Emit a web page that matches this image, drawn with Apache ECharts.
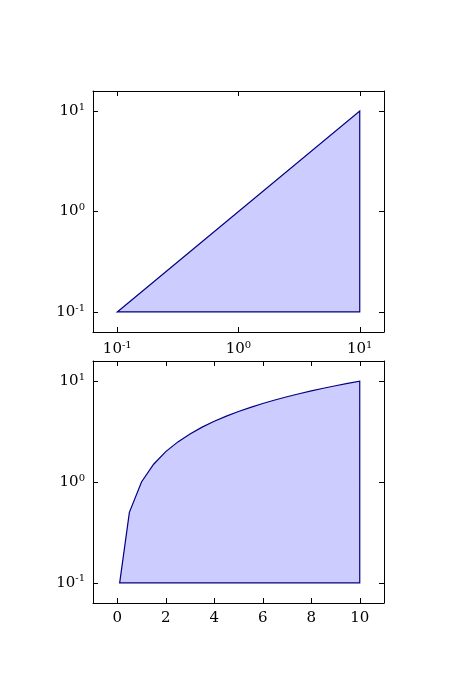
<!DOCTYPE html>
<html><head><meta charset="utf-8">
<script src="https://cdn.jsdelivr.net/npm/echarts@6/dist/echarts.min.js"></script>
<style>html,body{margin:0;padding:0;background:#fff}#c{width:474px;height:697px}</style>
</head><body><div id="c"></div>
<script>
const topPolygon = [[0.1,0.1],[10,10],[10,0.1]];
const bottomX = [0.1,0.5,1,1.5,2,2.5,3,3.5,4,4.5,5,5.5,6,6.5,7,7.5,8,8.5,9,9.5,10];
const bottomY = [0.1,0.5,1,1.5,2,2.5,3,3.5,4,4.5,5,5.5,6,6.5,7,7.5,8,8.5,9,9.5,10];
const linTicks = [0,2,4,6,8,10];

const font = 'DejaVu Serif';
const fill = 'rgb(204,204,255)', stroke = 'rgb(0,0,128)';
function expLabel(v){ const e=Math.round(Math.log10(v)); return '10{s|'+e+'}'; }
const rich = {s:{fontSize:10, verticalAlign:'top', padding:[0,0,8,0], fontFamily:font, color:'#000'}};
const lbl = {fontFamily:font, fontSize:15, color:'#000'};
const axLine = {show:true, onZero:false, lineStyle:{color:'#000', width:1}};
function logAx(dim, grid, pos, show){
  return {type:'log', gridIndex:grid, position:pos, min:Math.pow(10,-1.2), max:Math.pow(10,1.2),
    axisLine:axLine, splitLine:{show:false},
    axisTick:{show:true, inside:true, length:5, lineStyle:{color:'#000'}, customValues:[0.1,1,10]},
    axisLabel:show?Object.assign({formatter:expLabel, rich, margin:8, customValues:[0.1,1,10]},lbl):{show:false}};
}
function linAx(grid,pos,show){
  return {type:'value', gridIndex:grid, position:pos, min:-1, max:11, axisLine:axLine, splitLine:{show:false},
    axisTick:{show:true, inside:true, length:5, lineStyle:{color:'#000'}, customValues:linTicks},
    axisLabel:show?Object.assign({customValues:linTicks, margin:8},lbl):{show:false}};
}
function poly(pts){
  return function(params, api){
    return {type:'polygon', shape:{points:pts.map(p=>api.coord(p))},
      style:{fill:fill, stroke:stroke, lineWidth:1.2}};
  };
}
const bottomPts = bottomX.map((x,i)=>[x,bottomY[i]]).concat([[10,0.1]]);
const chart = echarts.init(document.getElementById('c'));
chart.setOption({
  animation:false,
  grid:[{left:93,top:91,width:291,height:241},{left:93,top:361,width:291,height:242}],
  xAxis:[logAx('x',0,'bottom',true), logAx('x',0,'top',false), linAx(1,'bottom',true), linAx(1,'top',false)],
  yAxis:[logAx('y',0,'left',true), logAx('y',0,'right',false), logAx('y',1,'left',true), logAx('y',1,'right',false)],
  series:[
    {type:'custom', xAxisIndex:0, yAxisIndex:0, renderItem:poly(topPolygon), data:[0], clip:true},
    {type:'custom', xAxisIndex:2, yAxisIndex:2, renderItem:poly(bottomPts), data:[0], clip:true}
  ]
});
</script></body></html>
